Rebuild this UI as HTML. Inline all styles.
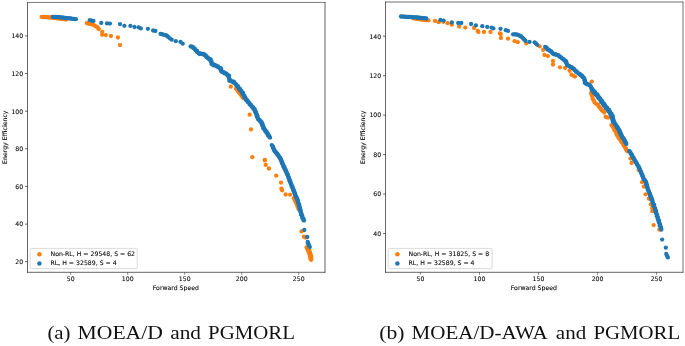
<!DOCTYPE html>
<html><head><meta charset="utf-8"><title>Figure</title>
<style>
html,body{margin:0;padding:0;background:#fff;}
svg{display:block;}
.t{font-family:"DejaVu Sans","Liberation Sans",sans-serif;fill:#000;stroke:#000;stroke-width:0.08px;}
.c{font-family:"Liberation Serif","DejaVu Serif",serif;fill:#111;}
</style></head><body>
<svg width="685" height="346" viewBox="0 0 685 346">
<rect width="685" height="346" fill="#fff"/>

<g fill="#ff7f0e"><circle cx="41.6" cy="16.9" r="2.15"/><circle cx="42.8" cy="17.0" r="2.15"/><circle cx="44.0" cy="17.0" r="2.15"/><circle cx="45.2" cy="17.1" r="2.15"/><circle cx="46.4" cy="17.2" r="2.15"/><circle cx="47.6" cy="17.3" r="2.15"/><circle cx="48.8" cy="17.3" r="2.15"/><circle cx="50.0" cy="17.4" r="2.15"/><circle cx="51.1" cy="17.5" r="2.15"/><circle cx="52.3" cy="17.7" r="2.15"/><circle cx="53.4" cy="17.8" r="2.15"/><circle cx="54.6" cy="18.0" r="2.15"/><circle cx="55.7" cy="18.1" r="2.15"/><circle cx="56.9" cy="18.3" r="2.15"/><circle cx="58.0" cy="18.4" r="2.15"/><circle cx="59.2" cy="18.6" r="2.15"/><circle cx="60.4" cy="18.7" r="2.15"/><circle cx="61.6" cy="18.9" r="2.15"/><circle cx="62.8" cy="19.0" r="2.15"/><circle cx="64.0" cy="19.2" r="2.15"/><circle cx="65.2" cy="19.3" r="2.15"/><circle cx="66.4" cy="19.5" r="2.15"/><circle cx="86.9" cy="23.2" r="2.15"/><circle cx="88.4" cy="23.6" r="2.15"/><circle cx="89.8" cy="23.9" r="2.15"/><circle cx="91.2" cy="24.2" r="2.15"/><circle cx="92.7" cy="24.6" r="2.15"/><circle cx="94.1" cy="25.3" r="2.15"/><circle cx="95.4" cy="26.1" r="2.15"/><circle cx="96.8" cy="26.8" r="2.15"/><circle cx="97.8" cy="27.9" r="2.15"/><circle cx="98.8" cy="29.0" r="2.15"/><circle cx="102.2" cy="31.9" r="2.15"/><circle cx="102.2" cy="34.8" r="2.15"/><circle cx="105.8" cy="35.1" r="2.15"/><circle cx="110.9" cy="36.0" r="2.15"/><circle cx="117.9" cy="37.5" r="2.15"/><circle cx="120.0" cy="45.1" r="2.15"/><circle cx="230.8" cy="86.7" r="2.15"/><circle cx="236.1" cy="88.7" r="2.15"/><circle cx="237.0" cy="89.8" r="2.15"/><circle cx="237.9" cy="91.0" r="2.15"/><circle cx="238.8" cy="92.2" r="2.15"/><circle cx="239.7" cy="93.3" r="2.15"/><circle cx="240.6" cy="94.5" r="2.15"/><circle cx="241.6" cy="95.8" r="2.15"/><circle cx="242.5" cy="97.0" r="2.15"/><circle cx="243.4" cy="98.2" r="2.15"/><circle cx="249.7" cy="114.7" r="2.15"/><circle cx="251.0" cy="129.4" r="2.15"/><circle cx="252.3" cy="157.2" r="2.15"/><circle cx="264.8" cy="159.8" r="2.15"/><circle cx="264.9" cy="160.4" r="2.15"/><circle cx="265.7" cy="164.9" r="2.15"/><circle cx="268.9" cy="168.5" r="2.15"/><circle cx="276.2" cy="175.7" r="2.15"/><circle cx="281.0" cy="182.6" r="2.15"/><circle cx="281.4" cy="188.6" r="2.15"/><circle cx="282.1" cy="190.3" r="2.15"/><circle cx="285.6" cy="194.5" r="2.15"/><circle cx="290.1" cy="194.7" r="2.15"/><circle cx="293.8" cy="198.2" r="2.15"/><circle cx="294.6" cy="199.8" r="2.15"/><circle cx="295.4" cy="201.4" r="2.15"/><circle cx="296.2" cy="203.0" r="2.15"/><circle cx="297.0" cy="204.6" r="2.15"/><circle cx="297.5" cy="206.1" r="2.15"/><circle cx="298.0" cy="207.5" r="2.15"/><circle cx="298.5" cy="209.0" r="2.15"/><circle cx="301.5" cy="231.4" r="2.15"/><circle cx="303.9" cy="236.7" r="2.15"/><circle cx="305.5" cy="237.6" r="2.15"/><circle cx="306.6" cy="247.3" r="2.15"/><circle cx="307.1" cy="247.7" r="2.15"/><circle cx="307.8" cy="248.1" r="2.15"/><circle cx="307.2" cy="249.1" r="2.15"/><circle cx="308.4" cy="249.2" r="2.15"/><circle cx="308.2" cy="250.0" r="2.15"/><circle cx="308.3" cy="250.7" r="2.15"/><circle cx="309.4" cy="250.9" r="2.15"/><circle cx="308.7" cy="252.0" r="2.15"/><circle cx="309.7" cy="252.3" r="2.15"/><circle cx="309.9" cy="252.9" r="2.15"/><circle cx="309.4" cy="253.9" r="2.15"/><circle cx="310.6" cy="254.3" r="2.15"/><circle cx="310.0" cy="255.2" r="2.15"/><circle cx="310.4" cy="255.9" r="2.15"/><circle cx="311.2" cy="256.5" r="2.15"/><circle cx="310.2" cy="257.3" r="2.15"/><circle cx="311.3" cy="257.8" r="2.15"/><circle cx="311.0" cy="258.5" r="2.15"/><circle cx="310.7" cy="259.2" r="2.15"/><circle cx="311.2" cy="259.8" r="2.15"/></g>
<g fill="#1f77b4"><circle cx="52.8" cy="16.9" r="2.15"/><circle cx="54.0" cy="17.0" r="2.15"/><circle cx="55.2" cy="17.0" r="2.15"/><circle cx="56.4" cy="17.1" r="2.15"/><circle cx="57.6" cy="17.2" r="2.15"/><circle cx="58.8" cy="17.2" r="2.15"/><circle cx="60.0" cy="17.3" r="2.15"/><circle cx="61.1" cy="17.4" r="2.15"/><circle cx="62.3" cy="17.6" r="2.15"/><circle cx="63.4" cy="17.7" r="2.15"/><circle cx="64.6" cy="17.8" r="2.15"/><circle cx="65.7" cy="17.9" r="2.15"/><circle cx="66.9" cy="18.1" r="2.15"/><circle cx="68.0" cy="18.2" r="2.15"/><circle cx="69.1" cy="18.3" r="2.15"/><circle cx="70.3" cy="18.5" r="2.15"/><circle cx="71.4" cy="18.6" r="2.15"/><circle cx="72.5" cy="18.8" r="2.15"/><circle cx="73.6" cy="18.9" r="2.15"/><circle cx="74.8" cy="19.1" r="2.15"/><circle cx="75.9" cy="19.2" r="2.15"/><circle cx="89.8" cy="20.2" r="2.15"/><circle cx="91.6" cy="20.6" r="2.15"/><circle cx="93.4" cy="21.0" r="2.15"/><circle cx="101.2" cy="22.9" r="2.15"/><circle cx="107.0" cy="23.4" r="2.15"/><circle cx="109.9" cy="23.6" r="2.15"/><circle cx="120.0" cy="24.1" r="2.15"/><circle cx="124.4" cy="25.8" r="2.15"/><circle cx="130.4" cy="25.9" r="2.15"/><circle cx="134.5" cy="27.0" r="2.15"/><circle cx="138.6" cy="27.3" r="2.15"/><circle cx="140.8" cy="28.4" r="2.15"/><circle cx="147.9" cy="28.8" r="2.15"/><circle cx="153.1" cy="30.5" r="2.15"/><circle cx="155.4" cy="31.0" r="2.15"/><circle cx="160.5" cy="33.9" r="2.15"/><circle cx="161.8" cy="34.2" r="2.15"/><circle cx="163.0" cy="34.6" r="2.15"/><circle cx="164.4" cy="34.9" r="2.15"/><circle cx="165.9" cy="35.1" r="2.15"/><circle cx="167.0" cy="36.0" r="2.15"/><circle cx="168.1" cy="36.8" r="2.15"/><circle cx="169.8" cy="38.3" r="2.15"/><circle cx="171.7" cy="39.7" r="2.15"/><circle cx="175.8" cy="41.2" r="2.15"/><circle cx="180.5" cy="41.9" r="2.15"/><circle cx="182.7" cy="43.7" r="2.15"/><circle cx="190.6" cy="46.4" r="2.15"/><circle cx="191.7" cy="46.7" r="2.15"/><circle cx="192.8" cy="47.0" r="2.15"/><circle cx="193.3" cy="48.1" r="2.15"/><circle cx="194.6" cy="48.3" r="2.15"/><circle cx="195.0" cy="49.4" r="2.15"/><circle cx="195.6" cy="50.3" r="2.15"/><circle cx="196.9" cy="50.7" r="2.15"/><circle cx="197.0" cy="52.1" r="2.15"/><circle cx="198.1" cy="52.6" r="2.15"/><circle cx="198.7" cy="53.3" r="2.15"/><circle cx="199.6" cy="54.0" r="2.15"/><circle cx="200.8" cy="53.3" r="2.15"/><circle cx="201.7" cy="54.1" r="2.15"/><circle cx="202.6" cy="54.2" r="2.15"/><circle cx="203.7" cy="54.0" r="2.15"/><circle cx="204.3" cy="54.9" r="2.15"/><circle cx="205.5" cy="55.2" r="2.15"/><circle cx="206.1" cy="56.2" r="2.15"/><circle cx="206.5" cy="57.2" r="2.15"/><circle cx="207.7" cy="57.4" r="2.15"/><circle cx="208.3" cy="58.7" r="2.15"/><circle cx="209.5" cy="58.9" r="2.15"/><circle cx="210.7" cy="59.4" r="2.15"/><circle cx="210.4" cy="60.8" r="2.15"/><circle cx="211.5" cy="61.7" r="2.15"/><circle cx="211.4" cy="63.0" r="2.15"/><circle cx="211.8" cy="64.3" r="2.15"/><circle cx="213.1" cy="64.2" r="2.15"/><circle cx="213.8" cy="65.4" r="2.15"/><circle cx="215.0" cy="65.2" r="2.15"/><circle cx="216.0" cy="65.7" r="2.15"/><circle cx="216.8" cy="66.6" r="2.15"/><circle cx="218.1" cy="66.5" r="2.15"/><circle cx="218.7" cy="67.6" r="2.15"/><circle cx="219.7" cy="68.0" r="2.15"/><circle cx="221.0" cy="68.4" r="2.15"/><circle cx="220.5" cy="69.6" r="2.15"/><circle cx="221.5" cy="70.4" r="2.15"/><circle cx="221.4" cy="71.4" r="2.15"/><circle cx="222.4" cy="72.2" r="2.15"/><circle cx="223.8" cy="72.1" r="2.15"/><circle cx="224.5" cy="73.4" r="2.15"/><circle cx="225.9" cy="73.5" r="2.15"/><circle cx="226.9" cy="74.2" r="2.15"/><circle cx="227.5" cy="75.4" r="2.15"/><circle cx="229.1" cy="75.7" r="2.15"/><circle cx="228.7" cy="77.0" r="2.15"/><circle cx="229.0" cy="78.1" r="2.15"/><circle cx="229.7" cy="79.2" r="2.15"/><circle cx="229.3" cy="80.8" r="2.15"/><circle cx="230.6" cy="80.6" r="2.15"/><circle cx="231.6" cy="81.1" r="2.15"/><circle cx="232.4" cy="81.9" r="2.15"/><circle cx="233.9" cy="81.7" r="2.15"/><circle cx="234.2" cy="83.0" r="2.15"/><circle cx="235.2" cy="83.7" r="2.15"/><circle cx="236.2" cy="84.3" r="2.15"/><circle cx="236.5" cy="85.8" r="2.15"/><circle cx="237.9" cy="86.2" r="2.15"/><circle cx="238.3" cy="87.4" r="2.15"/><circle cx="238.8" cy="88.4" r="2.15"/><circle cx="240.0" cy="88.8" r="2.15"/><circle cx="239.9" cy="90.1" r="2.15"/><circle cx="241.0" cy="90.6" r="2.15"/><circle cx="241.6" cy="91.4" r="2.15"/><circle cx="241.8" cy="92.6" r="2.15"/><circle cx="243.1" cy="93.0" r="2.15"/><circle cx="243.0" cy="94.3" r="2.15"/><circle cx="243.6" cy="95.2" r="2.15"/><circle cx="244.5" cy="96.0" r="2.15"/><circle cx="244.3" cy="97.3" r="2.15"/><circle cx="245.5" cy="98.0" r="2.15"/><circle cx="245.7" cy="99.1" r="2.15"/><circle cx="246.2" cy="100.2" r="2.15"/><circle cx="247.5" cy="100.5" r="2.15"/><circle cx="247.6" cy="101.9" r="2.15"/><circle cx="248.6" cy="102.5" r="2.15"/><circle cx="249.5" cy="103.2" r="2.15"/><circle cx="249.7" cy="104.5" r="2.15"/><circle cx="251.0" cy="104.8" r="2.15"/><circle cx="251.4" cy="106.0" r="2.15"/><circle cx="252.1" cy="106.9" r="2.15"/><circle cx="253.2" cy="107.3" r="2.15"/><circle cx="253.3" cy="108.7" r="2.15"/><circle cx="254.6" cy="109.2" r="2.15"/><circle cx="254.9" cy="110.3" r="2.15"/><circle cx="254.9" cy="111.5" r="2.15"/><circle cx="256.1" cy="112.2" r="2.15"/><circle cx="255.9" cy="113.5" r="2.15"/><circle cx="256.6" cy="114.4" r="2.15"/><circle cx="257.2" cy="115.3" r="2.15"/><circle cx="256.8" cy="116.6" r="2.15"/><circle cx="257.8" cy="117.4" r="2.15"/><circle cx="257.8" cy="118.5" r="2.15"/><circle cx="258.3" cy="119.5" r="2.15"/><circle cx="259.6" cy="119.8" r="2.15"/><circle cx="259.7" cy="121.1" r="2.15"/><circle cx="260.9" cy="121.5" r="2.15"/><circle cx="261.7" cy="122.3" r="2.15"/><circle cx="261.5" cy="123.5" r="2.15"/><circle cx="262.6" cy="124.2" r="2.15"/><circle cx="262.4" cy="125.4" r="2.15"/><circle cx="262.8" cy="126.3" r="2.15"/><circle cx="263.7" cy="127.1" r="2.15"/><circle cx="263.3" cy="128.5" r="2.15"/><circle cx="264.5" cy="128.9" r="2.15"/><circle cx="264.9" cy="129.9" r="2.15"/><circle cx="265.2" cy="131.0" r="2.15"/><circle cx="266.5" cy="131.4" r="2.15"/><circle cx="266.4" cy="132.7" r="2.15"/><circle cx="267.3" cy="133.4" r="2.15"/><circle cx="268.1" cy="134.1" r="2.15"/><circle cx="268.0" cy="135.4" r="2.15"/><circle cx="269.2" cy="135.8" r="2.15"/><circle cx="269.4" cy="136.9" r="2.15"/><circle cx="270.0" cy="137.7" r="2.15"/><circle cx="271.8" cy="145.1" r="2.15"/><circle cx="272.4" cy="146.0" r="2.15"/><circle cx="273.1" cy="146.9" r="2.15"/><circle cx="273.0" cy="148.1" r="2.15"/><circle cx="273.9" cy="148.8" r="2.15"/><circle cx="274.1" cy="149.9" r="2.15"/><circle cx="274.5" cy="151.0" r="2.15"/><circle cx="275.4" cy="151.4" r="2.15"/><circle cx="275.6" cy="152.5" r="2.15"/><circle cx="276.5" cy="153.0" r="2.15"/><circle cx="277.1" cy="153.7" r="2.15"/><circle cx="277.4" cy="154.7" r="2.15"/><circle cx="278.4" cy="155.2" r="2.15"/><circle cx="278.7" cy="156.3" r="2.15"/><circle cx="279.3" cy="157.2" r="2.15"/><circle cx="280.2" cy="157.9" r="2.15"/><circle cx="280.3" cy="159.0" r="2.15"/><circle cx="281.1" cy="159.7" r="2.15"/><circle cx="281.3" cy="160.6" r="2.15"/><circle cx="281.4" cy="161.6" r="2.15"/><circle cx="282.2" cy="162.3" r="2.15"/><circle cx="282.1" cy="163.5" r="2.15"/><circle cx="282.8" cy="164.3" r="2.15"/><circle cx="283.4" cy="165.2" r="2.15"/><circle cx="283.4" cy="166.4" r="2.15"/><circle cx="284.4" cy="167.1" r="2.15"/><circle cx="284.5" cy="168.2" r="2.15"/><circle cx="284.9" cy="169.2" r="2.15"/><circle cx="285.7" cy="170.0" r="2.15"/><circle cx="285.6" cy="171.1" r="2.15"/><circle cx="286.4" cy="171.9" r="2.15"/><circle cx="286.8" cy="172.9" r="2.15"/><circle cx="286.9" cy="174.0" r="2.15"/><circle cx="287.9" cy="174.7" r="2.15"/><circle cx="287.8" cy="175.8" r="2.15"/><circle cx="288.2" cy="176.6" r="2.15"/><circle cx="288.8" cy="177.5" r="2.15"/><circle cx="288.7" cy="178.6" r="2.15"/><circle cx="289.5" cy="179.3" r="2.15"/><circle cx="289.6" cy="180.3" r="2.15"/><circle cx="289.8" cy="181.3" r="2.15"/><circle cx="290.6" cy="182.0" r="2.15"/><circle cx="290.4" cy="183.1" r="2.15"/><circle cx="291.1" cy="183.9" r="2.15"/><circle cx="291.5" cy="184.8" r="2.15"/><circle cx="291.5" cy="185.9" r="2.15"/><circle cx="292.4" cy="186.6" r="2.15"/><circle cx="292.4" cy="187.6" r="2.15"/><circle cx="292.7" cy="188.5" r="2.15"/><circle cx="293.4" cy="189.3" r="2.15"/><circle cx="293.3" cy="190.4" r="2.15"/><circle cx="294.1" cy="191.2" r="2.15"/><circle cx="294.3" cy="192.1" r="2.15"/><circle cx="294.4" cy="193.1" r="2.15"/><circle cx="295.2" cy="193.9" r="2.15"/><circle cx="295.1" cy="194.9" r="2.15"/><circle cx="295.7" cy="195.8" r="2.15"/><circle cx="296.0" cy="196.7" r="2.15"/><circle cx="295.8" cy="196.8" r="2.15"/><circle cx="296.5" cy="197.7" r="2.15"/><circle cx="297.2" cy="198.5" r="2.15"/><circle cx="297.0" cy="199.7" r="2.15"/><circle cx="298.1" cy="200.7" r="2.15"/><circle cx="298.1" cy="202.0" r="2.15"/><circle cx="298.3" cy="203.3" r="2.15"/><circle cx="299.2" cy="204.4" r="2.15"/><circle cx="298.9" cy="205.8" r="2.15"/><circle cx="299.7" cy="206.9" r="2.15"/><circle cx="300.0" cy="208.0" r="2.15"/><circle cx="299.7" cy="209.2" r="2.15"/><circle cx="300.7" cy="210.1" r="2.15"/><circle cx="300.4" cy="211.3" r="2.15"/><circle cx="300.8" cy="212.4" r="2.15"/><circle cx="301.4" cy="213.4" r="2.15"/><circle cx="301.1" cy="214.7" r="2.15"/><circle cx="302.1" cy="215.6" r="2.15"/><circle cx="302.3" cy="216.7" r="2.15"/><circle cx="302.3" cy="217.9" r="2.15"/><circle cx="303.4" cy="218.6" r="2.15"/><circle cx="303.3" cy="219.8" r="2.15"/><circle cx="304.0" cy="220.6" r="2.15"/><circle cx="304.3" cy="230.0" r="2.15"/><circle cx="307.2" cy="237.0" r="2.15"/><circle cx="307.7" cy="241.9" r="2.15"/><circle cx="308.1" cy="243.2" r="2.15"/><circle cx="308.6" cy="244.5" r="2.15"/><circle cx="309.2" cy="245.8" r="2.15"/><circle cx="309.8" cy="247.1" r="2.15"/></g>
<g stroke="#111" fill="none"><path d="M27.50 2.15V272.60" stroke-width="0.65"/><path d="M27.20 2.45H325.30" stroke-width="0.55"/><path d="M325.00 2.15V272.60" stroke-width="0.66"/><path d="M27.20 272.30H325.30" stroke-width="0.65"/></g>
<path d="M70.7 272.3v2.5M127.7 272.3v2.5M184.7 272.3v2.5M241.7 272.3v2.5M298.7 272.3v2.5" stroke="#111" stroke-width="0.5" fill="none"/>
<path d="M27.5 261.7h-2.5M27.5 224.1h-2.5M27.5 186.4h-2.5M27.5 148.8h-2.5M27.5 111.2h-2.5M27.5 73.5h-2.5M27.5 35.9h-2.5" stroke="#111" stroke-width="0.62" fill="none"/>
<text class="t" x="70.7" y="280.9" font-size="6.2" text-anchor="middle">50</text>
<text class="t" x="127.7" y="280.9" font-size="6.2" text-anchor="middle">100</text>
<text class="t" x="184.7" y="280.9" font-size="6.2" text-anchor="middle">150</text>
<text class="t" x="241.7" y="280.9" font-size="6.2" text-anchor="middle">200</text>
<text class="t" x="298.7" y="280.9" font-size="6.2" text-anchor="middle">250</text>
<text class="t" x="23.2" y="263.9" font-size="6.2" text-anchor="end">20</text>
<text class="t" x="23.2" y="226.3" font-size="6.2" text-anchor="end">40</text>
<text class="t" x="23.2" y="188.7" font-size="6.2" text-anchor="end">60</text>
<text class="t" x="23.2" y="151.1" font-size="6.2" text-anchor="end">80</text>
<text class="t" x="23.2" y="113.5" font-size="6.2" text-anchor="end">100</text>
<text class="t" x="23.2" y="75.8" font-size="6.2" text-anchor="end">120</text>
<text class="t" x="23.2" y="38.1" font-size="6.2" text-anchor="end">140</text>
<text class="t" x="175.9" y="290.0" font-size="6.2" text-anchor="middle">Forward Speed</text>
<text class="t" transform="translate(7.0 137.2) rotate(-90)" font-size="6.2" text-anchor="middle">Energy Efficiency</text>
<rect x="30.2" y="248.4" width="107.0" height="20.2" rx="1.3" fill="#fff" fill-opacity="0.8" stroke="#ccc" stroke-width="0.7"/>
<circle cx="39.4" cy="254.3" r="2.25" fill="#ff7f0e"/>
<circle cx="39.4" cy="263.5" r="2.25" fill="#1f77b4"/>
<text class="t" x="50.5" y="255.6" font-size="6.2">Non-RL, H = 29548, S = 62</text>
<text class="t" x="50.5" y="264.9" font-size="6.2">RL<tspan dx="-0.9">.</tspan><tspan dx="-1.0">,</tspan> H = 32589, S = 4</text>
<g fill="#ff7f0e"><circle cx="413.0" cy="18.2" r="2.15"/><circle cx="414.4" cy="18.4" r="2.15"/><circle cx="415.8" cy="18.7" r="2.15"/><circle cx="417.2" cy="18.9" r="2.15"/><circle cx="418.6" cy="19.2" r="2.15"/><circle cx="420.0" cy="19.4" r="2.15"/><circle cx="421.4" cy="19.6" r="2.15"/><circle cx="422.8" cy="19.7" r="2.15"/><circle cx="424.2" cy="19.9" r="2.15"/><circle cx="425.6" cy="20.1" r="2.15"/><circle cx="427.0" cy="20.2" r="2.15"/><circle cx="428.4" cy="20.4" r="2.15"/><circle cx="435.0" cy="20.9" r="2.15"/><circle cx="438.7" cy="22.2" r="2.15"/><circle cx="443.4" cy="21.8" r="2.15"/><circle cx="447.7" cy="23.2" r="2.15"/><circle cx="451.8" cy="24.7" r="2.15"/><circle cx="459.1" cy="26.5" r="2.15"/><circle cx="465.3" cy="27.6" r="2.15"/><circle cx="474.0" cy="27.9" r="2.15"/><circle cx="477.7" cy="31.0" r="2.15"/><circle cx="478.4" cy="32.0" r="2.15"/><circle cx="483.9" cy="32.0" r="2.15"/><circle cx="490.5" cy="32.0" r="2.15"/><circle cx="499.9" cy="33.4" r="2.15"/><circle cx="500.7" cy="34.0" r="2.15"/><circle cx="500.9" cy="38.0" r="2.15"/><circle cx="508.0" cy="38.7" r="2.15"/><circle cx="514.6" cy="41.2" r="2.15"/><circle cx="517.8" cy="42.2" r="2.15"/><circle cx="526.3" cy="43.4" r="2.15"/><circle cx="539.7" cy="46.3" r="2.15"/><circle cx="543.1" cy="49.9" r="2.15"/><circle cx="544.5" cy="55.0" r="2.15"/><circle cx="547.9" cy="56.1" r="2.15"/><circle cx="553.0" cy="60.9" r="2.15"/><circle cx="553.0" cy="64.5" r="2.15"/><circle cx="560.0" cy="67.3" r="2.15"/><circle cx="565.1" cy="68.0" r="2.15"/><circle cx="569.6" cy="70.8" r="2.15"/><circle cx="571.4" cy="74.7" r="2.15"/><circle cx="573.2" cy="75.8" r="2.15"/><circle cx="575.0" cy="76.6" r="2.15"/><circle cx="591.8" cy="81.6" r="2.15"/><circle cx="591.1" cy="93.2" r="2.15"/><circle cx="591.7" cy="94.9" r="2.15"/><circle cx="592.4" cy="96.5" r="2.15"/><circle cx="592.6" cy="98.7" r="2.15"/><circle cx="593.8" cy="100.4" r="2.15"/><circle cx="594.6" cy="102.4" r="2.15"/><circle cx="596.2" cy="103.9" r="2.15"/><circle cx="598.2" cy="105.0" r="2.15"/><circle cx="598.8" cy="106.7" r="2.15"/><circle cx="600.1" cy="107.9" r="2.15"/><circle cx="601.1" cy="109.2" r="2.15"/><circle cx="601.9" cy="110.6" r="2.15"/><circle cx="603.4" cy="111.2" r="2.15"/><circle cx="604.3" cy="112.5" r="2.15"/><circle cx="605.6" cy="116.8" r="2.15"/><circle cx="606.6" cy="117.3" r="2.15"/><circle cx="608.3" cy="117.6" r="2.15"/><circle cx="611.4" cy="125.1" r="2.15"/><circle cx="612.7" cy="126.7" r="2.15"/><circle cx="614.0" cy="128.3" r="2.15"/><circle cx="614.6" cy="130.2" r="2.15"/><circle cx="615.9" cy="132.0" r="2.15"/><circle cx="616.4" cy="134.0" r="2.15"/><circle cx="617.2" cy="135.5" r="2.15"/><circle cx="618.4" cy="136.6" r="2.15"/><circle cx="618.9" cy="138.3" r="2.15"/><circle cx="620.1" cy="139.5" r="2.15"/><circle cx="621.1" cy="141.0" r="2.15"/><circle cx="621.8" cy="142.7" r="2.15"/><circle cx="623.2" cy="143.9" r="2.15"/><circle cx="623.7" cy="145.5" r="2.15"/><circle cx="624.7" cy="147.0" r="2.15"/><circle cx="625.8" cy="148.3" r="2.15"/><circle cx="626.2" cy="150.0" r="2.15"/><circle cx="627.3" cy="151.3" r="2.15"/><circle cx="630.5" cy="158.6" r="2.15"/><circle cx="631.6" cy="163.0" r="2.15"/><circle cx="638.6" cy="170.0" r="2.15"/><circle cx="642.1" cy="182.2" r="2.15"/><circle cx="643.9" cy="186.6" r="2.15"/><circle cx="645.6" cy="194.3" r="2.15"/><circle cx="648.8" cy="198.7" r="2.15"/><circle cx="650.9" cy="204.5" r="2.15"/><circle cx="652.2" cy="208.2" r="2.15"/><circle cx="652.4" cy="211.2" r="2.15"/><circle cx="653.6" cy="225.1" r="2.15"/><circle cx="659.3" cy="229.7" r="2.15"/></g>
<g fill="#1f77b4"><circle cx="401.0" cy="16.5" r="2.15"/><circle cx="402.1" cy="16.6" r="2.15"/><circle cx="403.2" cy="16.6" r="2.15"/><circle cx="404.4" cy="16.7" r="2.15"/><circle cx="405.5" cy="16.8" r="2.15"/><circle cx="406.6" cy="16.8" r="2.15"/><circle cx="407.8" cy="16.9" r="2.15"/><circle cx="408.9" cy="16.9" r="2.15"/><circle cx="410.0" cy="17.0" r="2.15"/><circle cx="411.1" cy="17.1" r="2.15"/><circle cx="412.3" cy="17.2" r="2.15"/><circle cx="413.4" cy="17.3" r="2.15"/><circle cx="414.6" cy="17.3" r="2.15"/><circle cx="415.7" cy="17.4" r="2.15"/><circle cx="416.9" cy="17.5" r="2.15"/><circle cx="418.0" cy="17.6" r="2.15"/><circle cx="419.2" cy="17.7" r="2.15"/><circle cx="420.3" cy="17.9" r="2.15"/><circle cx="421.5" cy="18.0" r="2.15"/><circle cx="422.7" cy="18.1" r="2.15"/><circle cx="423.9" cy="18.2" r="2.15"/><circle cx="425.0" cy="18.4" r="2.15"/><circle cx="426.2" cy="18.5" r="2.15"/><circle cx="440.4" cy="19.9" r="2.15"/><circle cx="443.6" cy="20.6" r="2.15"/><circle cx="451.8" cy="22.5" r="2.15"/><circle cx="458.2" cy="23.0" r="2.15"/><circle cx="461.3" cy="23.0" r="2.15"/><circle cx="471.1" cy="24.0" r="2.15"/><circle cx="475.9" cy="25.4" r="2.15"/><circle cx="482.3" cy="26.2" r="2.15"/><circle cx="487.2" cy="26.9" r="2.15"/><circle cx="491.5" cy="27.6" r="2.15"/><circle cx="493.4" cy="28.4" r="2.15"/><circle cx="500.5" cy="28.8" r="2.15"/><circle cx="505.8" cy="30.2" r="2.15"/><circle cx="508.0" cy="30.9" r="2.15"/><circle cx="513.1" cy="34.3" r="2.15"/><circle cx="514.6" cy="34.4" r="2.15"/><circle cx="516.0" cy="34.5" r="2.15"/><circle cx="517.5" cy="34.6" r="2.15"/><circle cx="518.7" cy="35.2" r="2.15"/><circle cx="520.0" cy="35.9" r="2.15"/><circle cx="521.2" cy="36.5" r="2.15"/><circle cx="522.3" cy="37.6" r="2.15"/><circle cx="523.4" cy="38.7" r="2.15"/><circle cx="524.5" cy="39.8" r="2.15"/><circle cx="525.5" cy="40.9" r="2.15"/><circle cx="529.6" cy="41.9" r="2.15"/><circle cx="534.6" cy="42.3" r="2.15"/><circle cx="535.9" cy="43.5" r="2.15"/><circle cx="537.2" cy="44.8" r="2.15"/><circle cx="545.2" cy="46.8" r="2.15"/><circle cx="546.0" cy="47.5" r="2.15"/><circle cx="546.9" cy="48.2" r="2.15"/><circle cx="547.3" cy="49.5" r="2.15"/><circle cx="548.5" cy="49.6" r="2.15"/><circle cx="549.4" cy="50.4" r="2.15"/><circle cx="550.3" cy="51.0" r="2.15"/><circle cx="551.3" cy="51.4" r="2.15"/><circle cx="551.7" cy="52.6" r="2.15"/><circle cx="552.6" cy="53.1" r="2.15"/><circle cx="553.3" cy="53.8" r="2.15"/><circle cx="554.3" cy="54.4" r="2.15"/><circle cx="555.6" cy="54.2" r="2.15"/><circle cx="556.6" cy="54.9" r="2.15"/><circle cx="557.7" cy="55.1" r="2.15"/><circle cx="558.8" cy="55.5" r="2.15"/><circle cx="559.5" cy="56.7" r="2.15"/><circle cx="560.7" cy="57.1" r="2.15"/><circle cx="561.6" cy="57.9" r="2.15"/><circle cx="562.4" cy="58.8" r="2.15"/><circle cx="563.7" cy="59.2" r="2.15"/><circle cx="564.2" cy="60.3" r="2.15"/><circle cx="565.2" cy="60.8" r="2.15"/><circle cx="566.2" cy="61.5" r="2.15"/><circle cx="566.1" cy="62.8" r="2.15"/><circle cx="566.9" cy="63.8" r="2.15"/><circle cx="567.0" cy="65.1" r="2.15"/><circle cx="567.9" cy="65.6" r="2.15"/><circle cx="569.1" cy="65.8" r="2.15"/><circle cx="569.8" cy="66.8" r="2.15"/><circle cx="570.9" cy="67.0" r="2.15"/><circle cx="571.9" cy="67.5" r="2.15"/><circle cx="572.6" cy="68.3" r="2.15"/><circle cx="573.7" cy="68.6" r="2.15"/><circle cx="574.2" cy="69.7" r="2.15"/><circle cx="575.0" cy="70.3" r="2.15"/><circle cx="575.9" cy="70.9" r="2.15"/><circle cx="576.3" cy="72.0" r="2.15"/><circle cx="577.5" cy="72.3" r="2.15"/><circle cx="578.1" cy="73.1" r="2.15"/><circle cx="578.9" cy="73.8" r="2.15"/><circle cx="580.0" cy="74.1" r="2.15"/><circle cx="580.5" cy="75.1" r="2.15"/><circle cx="581.5" cy="75.5" r="2.15"/><circle cx="582.4" cy="76.1" r="2.15"/><circle cx="582.8" cy="77.3" r="2.15"/><circle cx="584.0" cy="78.0" r="2.15"/><circle cx="584.4" cy="79.1" r="2.15"/><circle cx="584.6" cy="80.2" r="2.15"/><circle cx="585.2" cy="81.3" r="2.15"/><circle cx="584.8" cy="82.5" r="2.15"/><circle cx="585.4" cy="83.3" r="2.15"/><circle cx="586.4" cy="83.8" r="2.15"/><circle cx="587.4" cy="84.4" r="2.15"/><circle cx="588.6" cy="84.3" r="2.15"/><circle cx="589.4" cy="85.0" r="2.15"/><circle cx="590.2" cy="85.9" r="2.15"/><circle cx="591.0" cy="86.8" r="2.15"/><circle cx="591.1" cy="88.1" r="2.15"/><circle cx="592.2" cy="88.9" r="2.15"/><circle cx="592.6" cy="90.0" r="2.15"/><circle cx="592.0" cy="90.3" r="2.15"/><circle cx="592.9" cy="90.7" r="2.15"/><circle cx="593.9" cy="91.0" r="2.15"/><circle cx="593.7" cy="92.5" r="2.15"/><circle cx="595.2" cy="92.4" r="2.15"/><circle cx="595.4" cy="93.5" r="2.15"/><circle cx="595.8" cy="94.4" r="2.15"/><circle cx="597.3" cy="94.3" r="2.15"/><circle cx="596.9" cy="95.8" r="2.15"/><circle cx="598.1" cy="96.2" r="2.15"/><circle cx="598.7" cy="96.9" r="2.15"/><circle cx="598.5" cy="98.2" r="2.15"/><circle cx="600.1" cy="98.3" r="2.15"/><circle cx="599.9" cy="99.6" r="2.15"/><circle cx="600.6" cy="100.3" r="2.15"/><circle cx="601.7" cy="100.6" r="2.15"/><circle cx="601.2" cy="102.1" r="2.15"/><circle cx="602.7" cy="102.2" r="2.15"/><circle cx="602.9" cy="103.1" r="2.15"/><circle cx="603.0" cy="104.2" r="2.15"/><circle cx="604.5" cy="104.2" r="2.15"/><circle cx="604.0" cy="105.7" r="2.15"/><circle cx="605.0" cy="106.1" r="2.15"/><circle cx="605.9" cy="106.6" r="2.15"/><circle cx="605.7" cy="108.0" r="2.15"/><circle cx="607.3" cy="107.9" r="2.15"/><circle cx="607.3" cy="109.1" r="2.15"/><circle cx="607.8" cy="109.9" r="2.15"/><circle cx="609.2" cy="110.0" r="2.15"/><circle cx="608.7" cy="111.5" r="2.15"/><circle cx="610.0" cy="111.8" r="2.15"/><circle cx="610.3" cy="112.6" r="2.15"/><circle cx="610.1" cy="113.7" r="2.15"/><circle cx="611.6" cy="113.8" r="2.15"/><circle cx="611.1" cy="115.0" r="2.15"/><circle cx="611.8" cy="115.6" r="2.15"/><circle cx="612.8" cy="116.2" r="2.15"/><circle cx="611.7" cy="117.3" r="2.15"/><circle cx="613.1" cy="117.9" r="2.15"/><circle cx="612.7" cy="118.9" r="2.15"/><circle cx="612.4" cy="119.8" r="2.15"/><circle cx="613.7" cy="120.4" r="2.15"/><circle cx="613.1" cy="121.4" r="2.15"/><circle cx="613.0" cy="121.5" r="2.15"/><circle cx="613.8" cy="122.3" r="2.15"/><circle cx="614.7" cy="123.0" r="2.15"/><circle cx="614.9" cy="124.2" r="2.15"/><circle cx="615.9" cy="124.8" r="2.15"/><circle cx="616.4" cy="125.8" r="2.15"/><circle cx="616.8" cy="126.7" r="2.15"/><circle cx="617.7" cy="127.3" r="2.15"/><circle cx="617.7" cy="128.4" r="2.15"/><circle cx="618.5" cy="129.1" r="2.15"/><circle cx="619.0" cy="129.9" r="2.15"/><circle cx="619.1" cy="130.9" r="2.15"/><circle cx="620.0" cy="131.5" r="2.15"/><circle cx="620.0" cy="132.6" r="2.15"/><circle cx="620.4" cy="133.4" r="2.15"/><circle cx="621.1" cy="134.1" r="2.15"/><circle cx="621.0" cy="135.2" r="2.15"/><circle cx="621.8" cy="135.8" r="2.15"/><circle cx="622.2" cy="136.8" r="2.15"/><circle cx="622.6" cy="137.8" r="2.15"/><circle cx="623.6" cy="138.4" r="2.15"/><circle cx="623.7" cy="139.5" r="2.15"/><circle cx="624.5" cy="140.3" r="2.15"/><circle cx="625.1" cy="141.1" r="2.15"/><circle cx="625.1" cy="142.3" r="2.15"/><circle cx="626.1" cy="143.0" r="2.15"/><circle cx="626.3" cy="144.0" r="2.15"/><circle cx="629.2" cy="150.9" r="2.15"/><circle cx="629.9" cy="151.9" r="2.15"/><circle cx="630.7" cy="152.8" r="2.15"/><circle cx="630.9" cy="154.1" r="2.15"/><circle cx="631.9" cy="155.0" r="2.15"/><circle cx="632.3" cy="156.1" r="2.15"/><circle cx="632.9" cy="157.2" r="2.15"/><circle cx="633.8" cy="158.1" r="2.15"/><circle cx="634.0" cy="159.4" r="2.15"/><circle cx="634.9" cy="160.3" r="2.15"/><circle cx="635.5" cy="161.3" r="2.15"/><circle cx="635.8" cy="162.5" r="2.15"/><circle cx="636.8" cy="163.3" r="2.15"/><circle cx="637.1" cy="164.5" r="2.15"/><circle cx="637.7" cy="165.5" r="2.15"/><circle cx="638.6" cy="166.4" r="2.15"/><circle cx="638.8" cy="167.6" r="2.15"/><circle cx="639.6" cy="168.5" r="2.15"/><circle cx="639.9" cy="169.6" r="2.15"/><circle cx="640.1" cy="170.7" r="2.15"/><circle cx="641.0" cy="171.6" r="2.15"/><circle cx="641.0" cy="172.8" r="2.15"/><circle cx="641.6" cy="173.7" r="2.15"/><circle cx="642.2" cy="174.7" r="2.15"/><circle cx="642.3" cy="175.9" r="2.15"/><circle cx="643.2" cy="177.0" r="2.15"/><circle cx="643.4" cy="178.3" r="2.15"/><circle cx="643.9" cy="179.6" r="2.15"/><circle cx="644.8" cy="180.2" r="2.15"/><circle cx="645.2" cy="181.3" r="2.15"/><circle cx="646.1" cy="182.0" r="2.15"/><circle cx="646.3" cy="183.1" r="2.15"/><circle cx="646.3" cy="184.2" r="2.15"/><circle cx="647.0" cy="185.2" r="2.15"/><circle cx="646.9" cy="186.4" r="2.15"/><circle cx="647.3" cy="187.4" r="2.15"/><circle cx="647.8" cy="188.4" r="2.15"/><circle cx="647.8" cy="189.7" r="2.15"/><circle cx="648.6" cy="190.6" r="2.15"/><circle cx="648.9" cy="191.7" r="2.15"/><circle cx="649.2" cy="192.8" r="2.15"/><circle cx="650.0" cy="193.8" r="2.15"/><circle cx="650.0" cy="195.0" r="2.15"/><circle cx="650.6" cy="196.0" r="2.15"/><circle cx="650.3" cy="196.1" r="2.15"/><circle cx="651.0" cy="197.2" r="2.15"/><circle cx="651.7" cy="198.3" r="2.15"/><circle cx="651.4" cy="199.7" r="2.15"/><circle cx="652.5" cy="200.7" r="2.15"/><circle cx="652.6" cy="202.1" r="2.15"/><circle cx="652.9" cy="203.5" r="2.15"/><circle cx="654.1" cy="204.6" r="2.15"/><circle cx="653.8" cy="206.2" r="2.15"/><circle cx="654.7" cy="207.4" r="2.15"/><circle cx="655.1" cy="208.6" r="2.15"/><circle cx="654.9" cy="210.0" r="2.15"/><circle cx="656.1" cy="211.0" r="2.15"/><circle cx="655.8" cy="212.4" r="2.15"/><circle cx="656.3" cy="213.6" r="2.15"/><circle cx="657.1" cy="214.7" r="2.15"/><circle cx="656.7" cy="216.1" r="2.15"/><circle cx="657.7" cy="217.1" r="2.15"/><circle cx="657.9" cy="218.3" r="2.15"/><circle cx="657.9" cy="219.6" r="2.15"/><circle cx="659.0" cy="220.5" r="2.15"/><circle cx="658.6" cy="221.9" r="2.15"/><circle cx="659.3" cy="222.9" r="2.15"/><circle cx="660.0" cy="224.2" r="2.15"/><circle cx="659.7" cy="225.8" r="2.15"/><circle cx="660.9" cy="226.9" r="2.15"/><circle cx="660.9" cy="228.4" r="2.15"/><circle cx="661.4" cy="229.7" r="2.15"/><circle cx="662.1" cy="239.6" r="2.15"/><circle cx="665.8" cy="247.7" r="2.15"/><circle cx="666.3" cy="254.0" r="2.15"/><circle cx="667.0" cy="255.8" r="2.15"/><circle cx="667.9" cy="257.4" r="2.15"/></g>
<g stroke="#111" fill="none"><path d="M385.50 1.70V272.60" stroke-width="0.65"/><path d="M385.20 2.00H683.30" stroke-width="0.6"/><path d="M683.00 1.70V272.60" stroke-width="0.6"/><path d="M385.20 272.30H683.30" stroke-width="0.65"/></g>
<path d="M420.4 272.3v2.5M479.5 272.3v2.5M538.5 272.3v2.5M597.6 272.3v2.5M656.6 272.3v2.5" stroke="#111" stroke-width="0.5" fill="none"/>
<path d="M385.5 233.5h-2.5M385.5 194.0h-2.5M385.5 154.6h-2.5M385.5 115.1h-2.5M385.5 75.7h-2.5M385.5 36.2h-2.5" stroke="#111" stroke-width="0.62" fill="none"/>
<text class="t" x="420.4" y="280.9" font-size="6.2" text-anchor="middle">50</text>
<text class="t" x="479.5" y="280.9" font-size="6.2" text-anchor="middle">100</text>
<text class="t" x="538.5" y="280.9" font-size="6.2" text-anchor="middle">150</text>
<text class="t" x="597.6" y="280.9" font-size="6.2" text-anchor="middle">200</text>
<text class="t" x="656.6" y="280.9" font-size="6.2" text-anchor="middle">250</text>
<text class="t" x="381.2" y="235.8" font-size="6.2" text-anchor="end">40</text>
<text class="t" x="381.2" y="196.2" font-size="6.2" text-anchor="end">60</text>
<text class="t" x="381.2" y="156.8" font-size="6.2" text-anchor="end">80</text>
<text class="t" x="381.2" y="117.3" font-size="6.2" text-anchor="end">100</text>
<text class="t" x="381.2" y="78.0" font-size="6.2" text-anchor="end">120</text>
<text class="t" x="381.2" y="38.5" font-size="6.2" text-anchor="end">140</text>
<text class="t" x="533.9" y="290.0" font-size="6.2" text-anchor="middle">Forward Speed</text>
<text class="t" transform="translate(365.4 137.2) rotate(-90)" font-size="6.2" text-anchor="middle">Energy Efficiency</text>
<rect x="388.2" y="248.4" width="103.9" height="20.2" rx="1.3" fill="#fff" fill-opacity="0.8" stroke="#ccc" stroke-width="0.7"/>
<circle cx="397.4" cy="254.3" r="2.25" fill="#ff7f0e"/>
<circle cx="397.4" cy="263.5" r="2.25" fill="#1f77b4"/>
<text class="t" x="408.5" y="255.6" font-size="6.2">Non-RL, H = 31825, S = 8</text>
<text class="t" x="408.5" y="264.9" font-size="6.2">RL, H = 32589, S = 4</text>
<text class="c" x="47.4" y="338.6" font-size="19.2" textLength="23.1" lengthAdjust="spacingAndGlyphs">(a)</text>
<text class="c" x="77.5" y="338.6" font-size="19.2" textLength="85.4" lengthAdjust="spacingAndGlyphs">MOEA/D</text>
<text class="c" x="170.2" y="338.6" font-size="19.2" textLength="30.8" lengthAdjust="spacingAndGlyphs">and</text>
<text class="c" x="208.1" y="338.6" font-size="19.2" textLength="86.9" lengthAdjust="spacingAndGlyphs">PGMORL</text>
<text class="c" x="379.2" y="338.6" font-size="19.2" textLength="25.2" lengthAdjust="spacingAndGlyphs">(b)</text>
<text class="c" x="411.6" y="338.6" font-size="19.2" textLength="136.1" lengthAdjust="spacingAndGlyphs">MOEA/D-AWA</text>
<text class="c" x="555.8" y="338.6" font-size="19.2" textLength="30.4" lengthAdjust="spacingAndGlyphs">and</text>
<text class="c" x="593.4" y="338.6" font-size="19.2" textLength="86.8" lengthAdjust="spacingAndGlyphs">PGMORL</text>
</svg></body></html>
